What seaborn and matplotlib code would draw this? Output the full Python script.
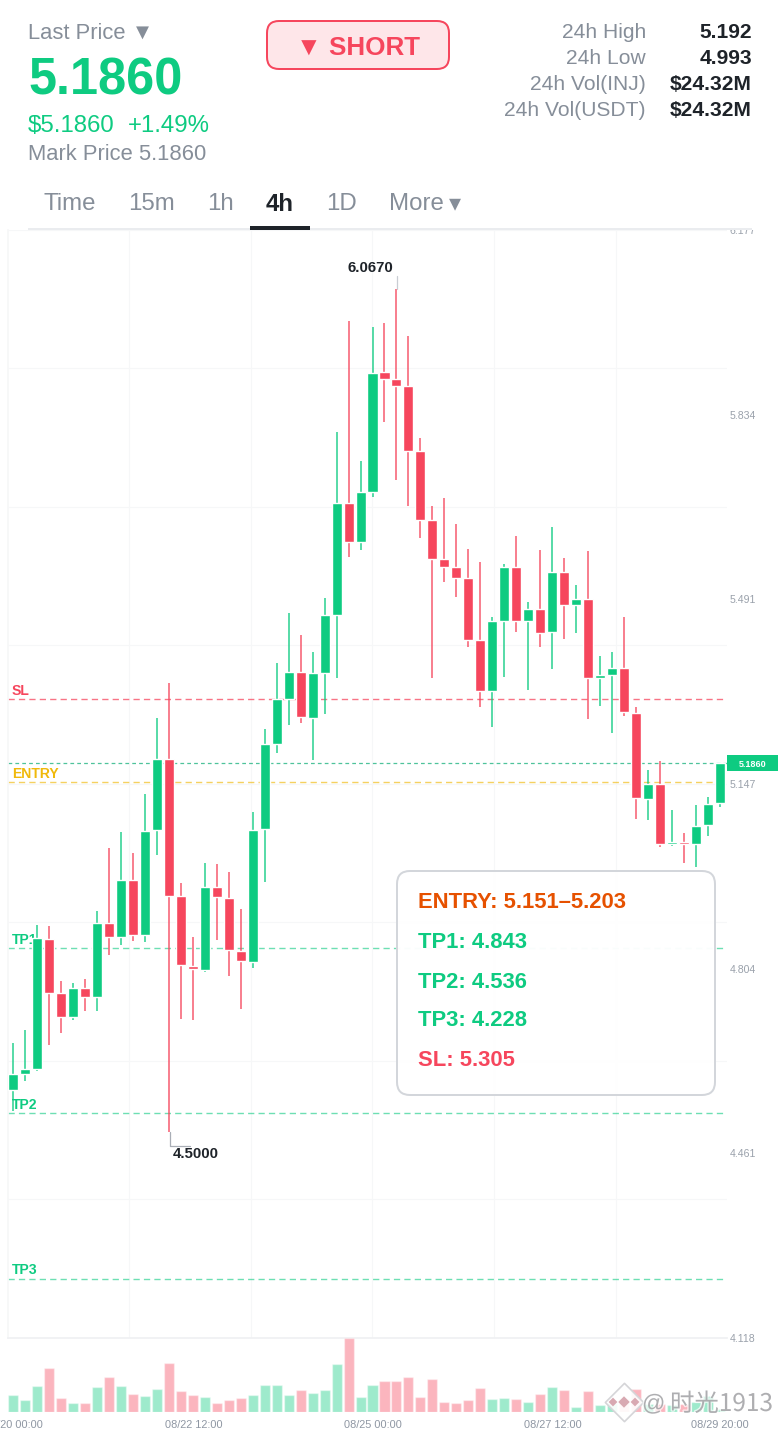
import matplotlib
matplotlib.use("Agg")
import matplotlib.pyplot as plt
import matplotlib.patheffects as pe
from matplotlib.patches import FancyBboxPatch, Rectangle
import numpy as np
import pandas as pd
import seaborn as sns

# 4h candles, from 08/20 00:00
opens = [4.579, 4.609, 4.618, 4.859, 4.759, 4.714, 4.768, 4.752, 4.889, 4.863,
         4.969, 4.867, 5.062, 5.194, 4.939, 4.809, 4.802, 4.956, 4.936, 4.837,
         4.817, 5.064, 5.222, 5.305, 5.356, 5.270, 5.354, 5.462, 5.670, 5.597,
         5.690, 5.913, 5.900, 5.887, 5.766, 5.638, 5.566, 5.551, 5.530, 5.415,
         5.320, 5.450, 5.551, 5.450, 5.473, 5.430, 5.541, 5.480, 5.491, 5.344,
         5.350, 5.363, 5.279, 5.120, 5.147, 5.036, 5.040, 5.036, 5.071, 5.112]
closes = [4.609, 4.617, 4.861, 4.759, 4.714, 4.768, 4.752, 4.889, 4.863, 4.969,
          4.867, 5.060, 5.194, 4.939, 4.811, 4.804, 4.956, 4.937, 4.839, 4.819,
          5.062, 5.222, 5.305, 5.356, 5.272, 5.354, 5.462, 5.670, 5.597, 5.690,
          5.911, 5.900, 5.887, 5.766, 5.638, 5.566, 5.551, 5.530, 5.415, 5.320,
          5.450, 5.551, 5.450, 5.473, 5.428, 5.541, 5.480, 5.491, 5.344, 5.350,
          5.363, 5.281, 5.121, 5.147, 5.036, 5.040, 5.036, 5.069, 5.110, 5.186]
highs = [4.666, 4.690, 4.885, 4.884, 4.781, 4.778, 4.785, 4.911, 5.028, 5.058,
         5.019, 5.129, 5.270, 5.335, 4.963, 4.863, 5.001, 4.999, 4.984, 4.915,
         5.095, 5.250, 5.372, 5.465, 5.424, 5.393, 5.493, 5.802, 6.008, 5.748,
         5.997, 6.004, 6.067, 5.980, 5.790, 5.664, 5.679, 5.631, 5.584, 5.560,
         5.458, 5.556, 5.608, 5.486, 5.582, 5.625, 5.567, 5.517, 5.580, 5.385,
         5.393, 5.458, 5.291, 5.173, 5.190, 5.099, 5.056, 5.108, 5.123, 5.186]
lows = [4.540, 4.596, 4.614, 4.662, 4.685, 4.709, 4.726, 4.726, 4.830, 4.848,
        4.856, 4.854, 5.016, 4.500, 4.711, 4.709, 4.798, 4.858, 4.791, 4.729,
        4.806, 4.965, 5.205, 5.257, 5.261, 5.192, 5.278, 5.344, 5.569, 5.582,
        5.681, 5.820, 5.712, 5.664, 5.605, 5.344, 5.523, 5.495, 5.402, 5.291,
        5.253, 5.346, 5.430, 5.322, 5.402, 5.361, 5.417, 5.428, 5.268, 5.292,
        5.242, 5.274, 5.082, 5.081, 5.030, 5.032, 5.001, 4.993, 5.051, 5.105]
volumes = [50, 36, 78, 131, 43, 28, 27, 75, 104, 77,
           54, 48, 69, 147, 63, 51, 45, 28, 36, 43,
           52, 80, 81, 51, 66, 56, 66, 144, 222, 44,
           82, 92, 93, 105, 44, 99, 31, 27, 35, 71,
           39, 43, 38, 29, 55, 75, 66, 15, 62, 20,
           26, 40, 69, 25, 25, 20, 25, 30, 48, 9]

price_labels = ["6.177", "5.834", "5.491", "5.147", "4.804", "4.461", "4.118"]
price_label_values = [6.177, 5.834, 5.491, 5.147, 4.804, 4.461, 4.118]
date_labels = ["08/20 00:00", "08/22 12:00", "08/25 00:00", "08/27 12:00", "08/29 20:00"]
date_label_idx = [0, 15, 30, 45, 59]
level_names = ["SL", "ENTRY", "TP1", "TP2", "TP3"]
level_values = [5.305, 5.151, 4.843, 4.536, 4.228]
last_price = 5.186
stat_names = ["24h High", "24h Low", "24h Vol(INJ)", "24h Vol(USDT)"]
stat_values = ["5.192", "4.993", "$24.32M", "$24.32M"]
tabs = ["Time", "15m", "1h", "4h", "1D", "More"]
tab_x = [44, 128, 207, 266, 326, 389]

GREEN = "#0ECB81"
RED = "#F6465D"
YELLOW = "#F0B90B"
ORANGE = "#E65100"
GRAY = "#868E99"
DARK = "#1E2329"
GRID = "#F6F7F8"
W, H = 780, 1430
PX = 0.72  # pixel -> point at dpi 100

sns.set_theme(style="white")
plt.rcParams["font.family"] = ["Liberation Sans", "DejaVu Sans"]

df = pd.DataFrame({"i": range(len(opens)), "open": opens, "close": closes,
                   "high": highs, "low": lows, "volume": volumes})
df["dir"] = np.where(df["close"] >= df["open"], "up", "down")
colors = df["dir"].map({"up": GREEN, "down": RED})

fig = plt.figure(figsize=(W / 100, H / 100), dpi=100, facecolor="white")


def axes_px(x0, y0, x1, y1):
    return fig.add_axes([x0 / W, 1 - y1 / H, (x1 - x0) / W, (y1 - y0) / H])


# price panel
ax = axes_px(8, 229.8, 727, 1337.8)
xlim = (-0.45, 59.61)
ax.set_xlim(*xlim)
ax.set_ylim(4.118, 6.177)
ax.set_xticks([9.69, 19.88, 29.99, 40.18, 50.35])
ax.set_yticks(np.linspace(4.118, 6.177, 9))
ax.tick_params(left=False, bottom=False, labelleft=False, labelbottom=False)
ax.grid(True, color=GRID, lw=0.8)
ax.set_axisbelow(True)
sns.despine(ax=ax, top=True, right=True, left=False, bottom=False)
ax.spines["left"].set_color(GRID)
ax.spines["bottom"].set_color("#F0F1F3")

# level lines
level_colors = [RED, YELLOW, GREEN, GREEN, GREEN]
level_alpha = [0.75, 0.65, 0.6, 0.6, 0.6]
for name, val, c, a in zip(level_names, level_values, level_colors, level_alpha):
    ax.axhline(val, color=c, alpha=a, lw=1.0, ls=(0, (4.5, 3)), zorder=1.5)
    ax.annotate(name, xy=(xlim[0], val), xytext=(2.7, 0.8), textcoords="offset points",
                color=c, fontsize=14 * PX, fontweight="bold", zorder=1.6, va="bottom", ha="left")
ax.axhline(last_price, color="#2FB98A", lw=0.9, alpha=0.85, ls=(0, (3, 2.5)), zorder=1.5)

# candles
ax.vlines(df["i"], df["low"], df["high"], colors=colors, lw=1.15, alpha=0.85, zorder=2)
ax.bar(df["i"], (df["close"] - df["open"]).abs(), bottom=df[["open", "close"]].min(axis=1),
       width=0.84, color=colors, zorder=3)

# volume panel
ax_vol = axes_px(8, 1338, 727, 1412)
sns.barplot(data=df, x="i", y="volume", hue="dir", palette={"up": GREEN, "down": RED},
            native_scale=True, dodge=False, width=0.84, alpha=0.4, saturation=1,
            legend=False, ax=ax_vol)
ax_vol.set_xlim(*xlim)
ax_vol.set_ylim(0, 222)
ax_vol.axis("off")

# overlay in pixel coordinates
ov = fig.add_axes([0, 0, 1, 1], zorder=5)
ov.set_xlim(0, W)
ov.set_ylim(H, 0)
ov.axis("off")
ov.patch.set_alpha(0)


def txt(x, y, s, size, color=GRAY, weight="normal", ha="left", **kw):
    return ov.text(x, y, s, fontsize=size * PX, color=color, fontweight=weight,
                   ha=ha, va="center_baseline", **kw)


# header
txt(28, 31, "Last Price ▼", 22)
txt(28, 75.5, "5.1860", 50.5, GREEN, "bold")
txt(28, 124, "$5.1860", 24, GREEN)
txt(128, 124, "+1.49%", 24, GREEN)
txt(28, 152, "Mark Price 5.1860", 22)
ov.add_patch(FancyBboxPatch((267, 21), 182, 48, boxstyle="round,pad=0,rounding_size=12",
                            fc="#FEE6E9", ec=RED, lw=2 * PX))
txt(358, 45, "▼ SHORT", 26, RED, "bold", ha="center")
for k, (name, val) in enumerate(zip(stat_names, stat_values)):
    txt(646, 31 + 26 * k, name, 21, ha="right")
    txt(752, 31 + 26 * k, val, 21, DARK, "bold", ha="right")

# tabs
for x, t in zip(tab_x, tabs):
    active = t == "4h"
    txt(x, 202, t, 24, DARK if active else GRAY, "bold" if active else "normal")
txt(449, 202, "▾", 24)
ov.add_patch(Rectangle((28, 227.5), 724, 2, fc="#EAECEF", ec="none"))
ov.add_patch(Rectangle((250, 226), 60, 4, fc=DARK, ec="none"))

# price scale, top label is cut by the panel edge
y_of = lambda p: 230 + (6.177 - p) * 538.1
clip = Rectangle((0, 230), W, H - 230, transform=ov.transData, fc="none", ec="none")
for s, p in zip(price_labels, price_label_values):
    t = txt(730, y_of(p), s, 10.5, "#9AA1AB")
    t.set_clip_path(clip)
    t.set_clip_on(True)

# x labels
x_of = lambda i: 14 + 11.97 * i
for s, i in zip(date_labels, date_label_idx):
    txt(x_of(i), 1424, s, 11, "#8F97A3", ha="center")

# last price tag
ov.add_patch(Rectangle((727, 755), 51, 16, fc=GREEN, ec="none"))
txt(752.5, 763.5, "5.1860", 9, "white", "bold", ha="center")

# high and low marks
txt(370, 266, "6.0670", 15, DARK, "bold", ha="center")
ov.plot([397, 397], [276, 289], color="#C9CDD3", lw=0.9)
txt(196, 1153, "4.5000", 15, DARK, "bold", ha="center")
ov.plot([170, 170, 190], [1132, 1146, 1146], color="#A9AEB6", lw=0.9)

# levels box
ov.add_patch(FancyBboxPatch((397, 871), 318, 224, boxstyle="round,pad=0,rounding_size=13",
                            fc=(1, 1, 1, 0.97), ec="#D3D6DB", lw=2 * PX))
box_lines = ["ENTRY: 5.151–5.203", "TP1: 4.843", "TP2: 4.536", "TP3: 4.228", "SL: 5.305"]
box_colors = [ORANGE, GREEN, GREEN, GREEN, RED]
for s, c, y in zip(box_lines, box_colors, [900.5, 940.5, 980.5, 1018.5, 1057.5]):
    txt(418, y, s, 22, c, "bold")

# watermark
halo = [pe.withStroke(linewidth=2, foreground="white", alpha=0.7)]
ov.scatter([624], [1402], marker="D", s=380, fc=(1, 1, 1, 0.9), ec="#D5D5D8", lw=1.2, zorder=6)
ov.scatter([624, 613, 635], [1402, 1402, 1402], marker="D",
           s=[34, 20, 20], fc="#D8A9B2", ec="none", zorder=7)
ov.text(642, 1404, "@", fontsize=23 * PX, color="#8A8A8E", alpha=0.6, va="center",
        zorder=7, path_effects=halo)
ov.text(670, 1404, "时光1913", fontsize=24.4 * PX, color="#8A8A8E", alpha=0.6, va="center",
        family=["Noto Sans CJK SC", "DejaVu Sans"], zorder=7, path_effects=halo)

fig.savefig("out.png", dpi=100, facecolor="white")
